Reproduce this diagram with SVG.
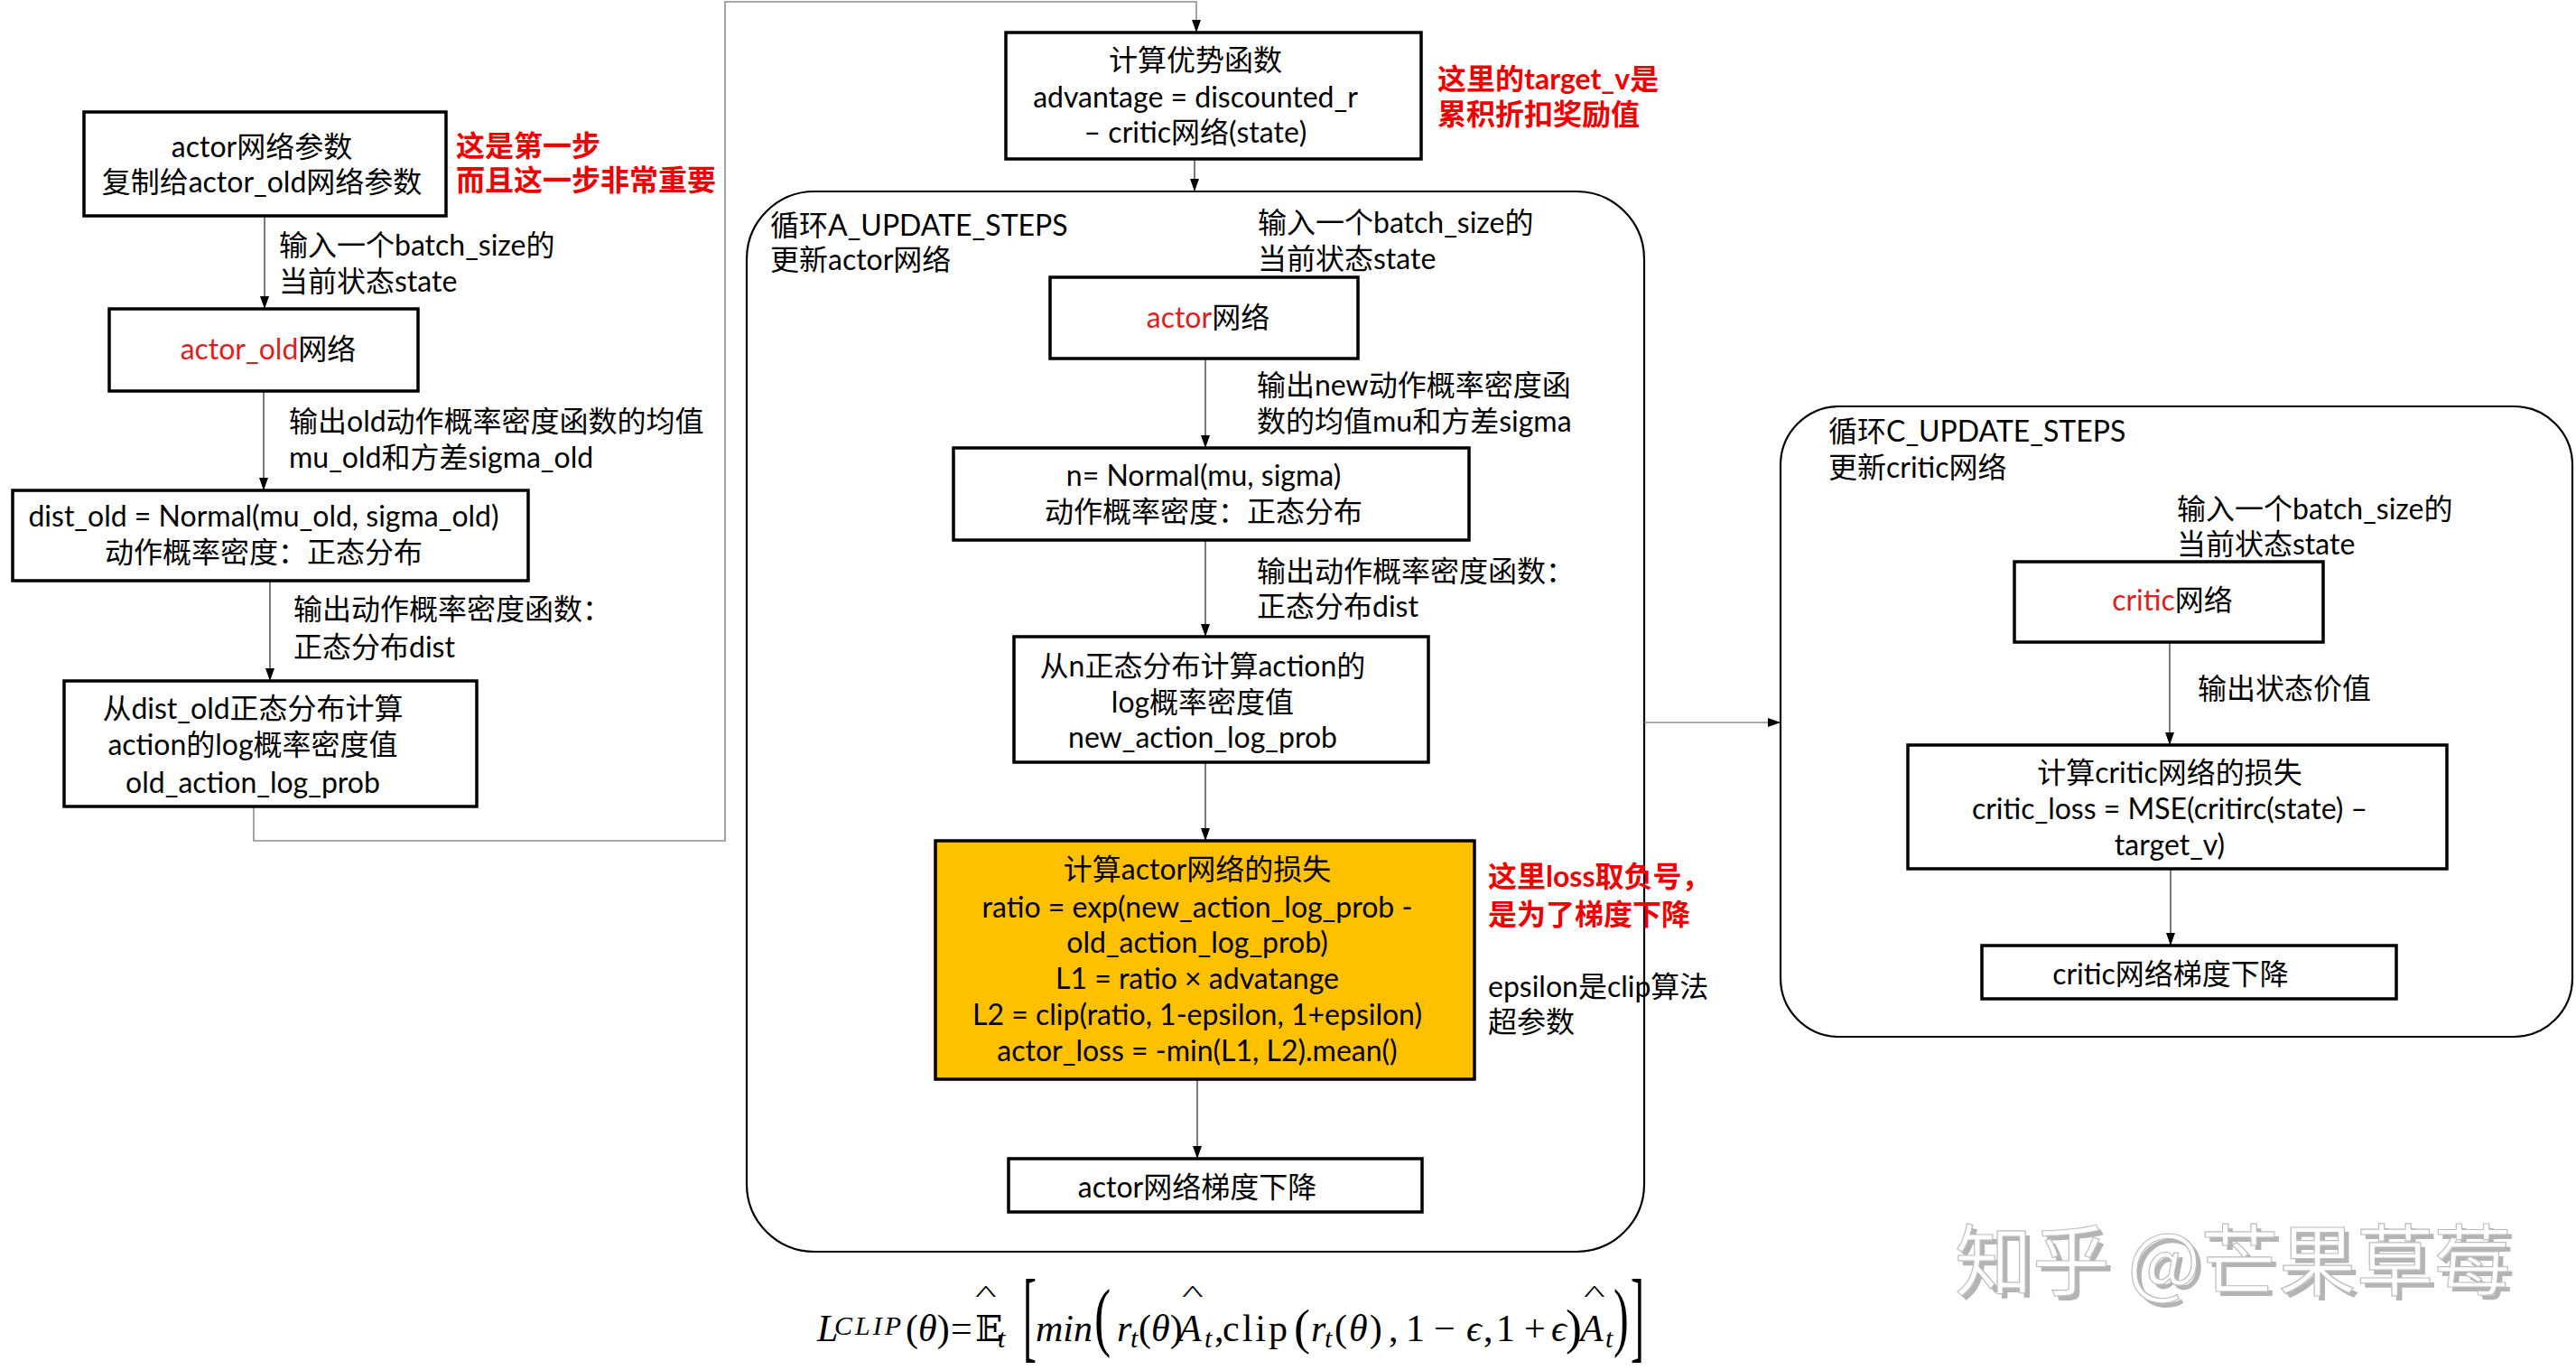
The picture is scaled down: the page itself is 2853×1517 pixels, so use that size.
<svg xmlns="http://www.w3.org/2000/svg" width="2853" height="1517" viewBox="0 0 2853 1517">
<defs>
<marker id="ah" markerUnits="userSpaceOnUse" markerWidth="14" markerHeight="10" refX="14" refY="5" orient="auto">
<path d="M0,0 L14,5 L0,10 z" fill="#000"/>
</marker>
<style>
.t{font-family:"Lato","Noto Sans CJK SC",sans-serif;font-size:32px;fill:#000}
.m{text-anchor:middle}
.r{fill:#ee0000;font-weight:bold}
.red{fill:#e01e1e}
.box{fill:#fff;stroke:#000;stroke-width:3.5}
.cont{fill:none;stroke:#000;stroke-width:2.2}
.c{fill:none;stroke:#333;stroke-width:1.3;marker-end:url(#ah)}
.g{fill:none;stroke:#8c8c8c;stroke-width:1.6}
.fm{font-family:"Liberation Serif","DejaVu Serif",serif;font-size:42px;fill:#000}
.i{font-style:italic}
.sup{font-size:30px;letter-spacing:3px}
.sub{font-size:30px}
.bk{font-size:112px}
.pr{font-size:84px}
.pm{font-size:54px}
.ds{font-family:"DejaVu Serif","DejaVu Sans",serif;font-size:40px}
.wm{font-family:"Noto Sans CJK SC",sans-serif;font-size:86px}
</style>
</defs>
<rect width="2853" height="1517" fill="#fff"/>

<g id="containerA"><rect x="827" y="212" width="994" height="1174" rx="75" ry="75" class="cont"/>
<text class="t" x="853" y="261">循环A_UPDATE_STEPS</text>
<text class="t" x="853" y="299">更新actor网络</text></g>

<g id="containerC"><rect x="1972" y="450" width="877" height="698" rx="65" ry="65" class="cont"/>
<text class="t" x="2025" y="489">循环C_UPDATE_STEPS</text>
<text class="t" x="2025" y="529">更新critic网络</text></g>

<g id="connectors">
<path class="c" d="M293,239 V342"/>
<path class="c" d="M292,433 V543"/>
<path class="c" d="M299,643 V754"/>
<path class="g" d="M281,893 V931 H803 V2 H1325 V30"/>
<path class="c" d="M1325,28 V36"/>
<path class="c" d="M1323,176 V212"/>
<path class="c" d="M1335,397 V496"/>
<path class="c" d="M1335,598 V705"/>
<path class="c" d="M1335,844 V931"/>
<path class="c" d="M1326,1195 V1283"/>
<path class="g" d="M1821,800 H1962"/>
<path class="c" d="M1958,800 H1972"/>
<path class="c" d="M2403,711 V825"/>
<path class="c" d="M2404,962 V1047"/>
</g>

<g id="lbl1"><text class="t" x="309" y="283">输入一个batch_size的</text><text class="t" x="309" y="323">当前状态state</text></g>
<g id="lbl2"><text class="t" x="320" y="478">输出old动作概率密度函数的均值</text><text class="t" x="320" y="518">mu_old和方差sigma_old</text></g>
<g id="lbl3"><text class="t" x="325" y="686">输出动作概率密度函数：</text><text class="t" x="325" y="728">正态分布dist</text></g>

<g id="n1"><rect x="93" y="124" width="401" height="115" class="box"/>
<text class="t m" x="290" y="174">actor网络参数</text>
<text class="t m" x="290" y="213">复制给actor_old网络参数</text></g>
<g id="note1"><text class="t r" x="505" y="173">这是第一步</text><text class="t r" x="505" y="211">而且这一步非常重要</text></g>

<g id="n2"><rect x="121" y="342" width="342" height="91" class="box"/>
<text class="t m" x="297" y="398"><tspan class="red">actor_old</tspan>网络</text></g>

<g id="n3"><rect x="14" y="543" width="571" height="100" class="box"/>
<text class="t m" x="292" y="583">dist_old  = Normal(mu_old, sigma_old)</text>
<text class="t m" x="292" y="623">动作概率密度：正态分布</text></g>

<g id="n4"><rect x="71" y="754" width="457" height="139" class="box"/>
<text class="t m" x="280" y="796">从dist_old正态分布计算</text>
<text class="t m" x="280" y="836">action的log概率密度值</text>
<text class="t m" x="280" y="878">old_action_log_prob</text></g>

<g id="n5"><rect x="1114" y="36" width="460" height="140" class="box"/>
<text class="t m" x="1324" y="78">计算优势函数</text>
<text class="t m" x="1324" y="119">advantage = discounted_r</text>
<text class="t m" x="1324" y="158">– critic网络(state)</text></g>
<g id="note2"><text class="t r" x="1592" y="99">这里的target_v是</text><text class="t r" x="1592" y="138">累积折扣奖励值</text></g>

<g id="lbl4"><text class="t" x="1393" y="258">输入一个batch_size的</text><text class="t" x="1393" y="298">当前状态state</text></g>

<g id="n6"><rect x="1163" y="307" width="341" height="90" class="box"/>
<text class="t m" x="1338" y="363"><tspan class="red">actor</tspan>网络</text></g>

<g id="lbl5"><text class="t" x="1392" y="438">输出new动作概率密度函</text><text class="t" x="1392" y="478">数的均值mu和方差sigma</text></g>

<g id="n7"><rect x="1056" y="496" width="571" height="102" class="box"/>
<text class="t m" x="1333" y="538">n= Normal(mu, sigma)</text>
<text class="t m" x="1333" y="578">动作概率密度：正态分布</text></g>

<g id="lbl6"><text class="t" x="1392" y="644">输出动作概率密度函数：</text><text class="t" x="1392" y="683">正态分布dist</text></g>

<g id="n8"><rect x="1123" y="705" width="459" height="139" class="box"/>
<text class="t m" x="1332" y="749">从n正态分布计算action的</text>
<text class="t m" x="1332" y="789">log概率密度值</text>
<text class="t m" x="1332" y="828">new_action_log_prob</text></g>

<g id="n9"><rect x="1036" y="931" width="597" height="264" class="box" style="fill:#ffc000"/>
<text class="t m" x="1326" y="974">计算actor网络的损失</text>
<text class="t m" x="1326" y="1016">ratio = exp(new_action_log_prob  -</text>
<text class="t m" x="1326" y="1055">old_action_log_prob)</text>
<text class="t m" x="1326" y="1095">L1 = ratio × advatange</text>
<text class="t m" x="1326" y="1135">L2 = clip(ratio, 1-epsilon, 1+epsilon)</text>
<text class="t m" x="1326" y="1175">actor_loss = -min(L1, L2).mean()</text></g>
<g id="note3"><text class="t r" x="1648" y="982">这里loss取负号，</text><text class="t r" x="1648" y="1024">是为了梯度下降</text></g>
<g id="note4"><text class="t" x="1648" y="1104">epsilon是clip算法</text><text class="t" x="1648" y="1143">超参数</text></g>

<g id="n10"><rect x="1117" y="1283" width="458" height="59" class="box"/>
<text class="t m" x="1326" y="1326">actor网络梯度下降</text></g>

<g id="lbl7"><text class="t" x="2411" y="575">输入一个batch_size的</text><text class="t" x="2411" y="614">当前状态state</text></g>

<g id="n11"><rect x="2231" y="622" width="342" height="89" class="box"/>
<text class="t m" x="2406" y="676"><tspan class="red">critic</tspan>网络</text></g>

<g id="lbl8"><text class="t" x="2434" y="774">输出状态价值</text></g>

<g id="n12"><rect x="2113" y="825" width="597" height="137" class="box"/>
<text class="t m" x="2403" y="867">计算critic网络的损失</text>
<text class="t m" x="2403" y="907">critic_loss  = MSE(critirc(state) –</text>
<text class="t m" x="2403" y="947">target_v)</text></g>

<g id="n13"><rect x="2195" y="1047" width="459" height="59" class="box"/>
<text class="t m" x="2404" y="1090">critic网络梯度下降</text></g>

<g id="formula">
<text class="fm i" x="905" y="1485">L</text>
<text class="fm i sup" x="924" y="1478">CLIP</text>
<text class="fm" x="1003" y="1485">(<tspan class="i">θ</tspan>)</text>
<text class="fm" x="1053" y="1485">=</text>
<text class="fm ds" x="1080" y="1485">𝔼</text>
<text class="fm" transform="translate(1080,1441) scale(1.2,0.6)">^</text>
<text class="fm i sub" x="1105" y="1492">t</text>
<text class="fm bk" transform="translate(1133,1494) scale(0.4,1)">[</text>
<text class="fm i" x="1147" y="1485">min</text>
<text class="fm pr" transform="translate(1212,1486) scale(0.65,1)">(</text>
<text class="fm i" x="1237" y="1485">r</text>
<text class="fm i sub" x="1252" y="1492">t</text>
<text class="fm" x="1261" y="1485">(<tspan class="i">θ</tspan>)</text>
<text class="fm i" x="1305" y="1485">A</text>
<text class="fm" transform="translate(1309,1441) scale(1.2,0.6)">^</text>
<text class="fm i sub" x="1334" y="1492">t</text>
<text class="fm" x="1345" y="1485">,</text>
<text class="fm" x="1354" y="1485" style="letter-spacing:3px">clip</text>
<text class="fm pm" x="1433" y="1488">(</text>
<text class="fm i" x="1452" y="1485">r</text>
<text class="fm i sub" x="1467" y="1492">t</text>
<text class="fm" x="1478" y="1485" style="letter-spacing:2px">(<tspan class="i">θ</tspan>)</text>
<text class="fm" x="1538" y="1485">,</text>
<text class="fm" y="1485"><tspan x="1557">1</tspan><tspan x="1588">−</tspan><tspan x="1624" class="i">ϵ</tspan><tspan x="1643">,</tspan><tspan x="1657">1</tspan><tspan x="1688">+</tspan><tspan x="1718" class="i">ϵ</tspan></text>
<text class="fm pm" x="1734" y="1488">)</text>
<text class="fm i" x="1750" y="1485">A</text>
<text class="fm" transform="translate(1754,1441) scale(1.2,0.6)">^</text>
<text class="fm i sub" x="1778" y="1492">t</text>
<text class="fm pr" transform="translate(1787,1486) scale(0.6,1)">)</text>
<text class="fm bk" transform="translate(1806,1494) scale(0.4,1)">]</text>
</g>

<g id="watermark">
<text class="wm" x="2170" y="1433" fill="#b4b4b4">知乎 @芒果草莓</text>
<text class="wm" x="2165" y="1428" fill="#fff" stroke="#bdbdbd" stroke-width="1.2">知乎 @芒果草莓</text>
</g>
</svg>
